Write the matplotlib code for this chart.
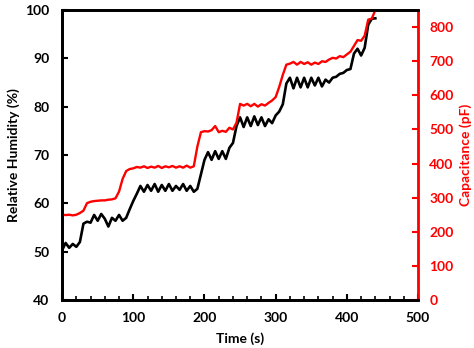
import numpy as np
import matplotlib.pyplot as plt

# sample times (s)
time = np.arange(0, 445, 5)

# relative humidity (%), left axis
humidity = [
    50.3, 51.8, 50.8, 51.6, 51.0, 52.0, 55.8, 56.2, 56.0, 57.6,
    56.4, 57.8, 56.8, 55.2, 57.0, 56.4, 57.6, 56.4, 57.0, 58.8,
    60.5, 62.0, 63.6, 62.4, 63.8, 62.6, 64.0, 62.4, 63.8, 62.6,
    64.0, 62.6, 63.6, 62.8, 64.0, 62.6, 63.6, 62.4, 63.0, 66.0,
    69.0, 70.6, 69.0, 70.8, 69.2, 70.8, 69.2, 71.5, 72.5, 76.0,
    77.8, 75.8, 77.8, 76.0, 78.0, 76.2, 77.8, 76.0, 77.4, 76.6,
    78.2, 79.0, 80.5, 84.8, 86.0, 83.8, 86.0, 84.0, 86.0, 84.0,
    86.0, 84.4, 86.0, 84.2, 85.6, 85.0, 86.0, 86.2, 86.8, 87.0,
    87.6, 87.8, 91.0, 92.0, 90.6, 92.2, 97.0, 98.2, 98.3,
]

# capacitance (pF), right axis
capacitance = [
    250, 249, 250, 248, 250, 255, 262, 284, 288, 290,
    291, 292, 292, 294, 295, 298, 318, 355, 378, 384,
    386, 390, 388, 392, 387, 391, 388, 393, 387, 392,
    389, 393, 388, 392, 388, 394, 388, 392, 450, 492,
    495, 494, 498, 510, 492, 496, 493, 505, 500, 520,
    575, 570, 575, 568, 575, 567, 574, 570, 578, 585,
    595, 625, 660, 690, 693, 698, 690, 698, 692, 697,
    690, 696, 692, 700, 698, 705, 710, 708, 715, 712,
    720, 728, 745, 762, 760, 775, 822, 825, 850,
]


def main() -> int:
    plt.rcParams["font.family"] = ["Lato", "DejaVu Sans"]
    plt.rcParams["font.weight"] = "bold"

    fig = plt.figure(figsize=(4.74, 3.48), dpi=100)
    ax = fig.add_axes([0.131, 0.138, 0.751, 0.833])
    ax2 = ax.twinx()

    ax.plot(time, humidity, color="black", linewidth=1.9)
    ax2.plot(time, capacitance, color="red", linewidth=1.7)

    ax.set_xlim(0, 500)
    ax.set_ylim(40, 100)
    ax2.set_ylim(0, 850)
    ax.set_xticks(range(0, 501, 100))
    ax.set_xticks(range(0, 501, 20), minor=True)
    ax.set_yticks(range(40, 101, 10))
    ax2.set_yticks(range(0, 801, 100))

    ax.set_xlabel("Time (s)", fontsize=10, fontweight="bold", labelpad=6)
    ax.set_ylabel("Relative Humidity (%)", fontsize=10, fontweight="bold")
    ax2.set_ylabel("Capacitance (pF)", fontsize=10, fontweight="bold",
                   color="red")

    ax.tick_params(axis="both", which="major", direction="in", length=4,
                   width=1.5, labelsize=10, pad=9)
    ax.tick_params(axis="x", which="minor", direction="in", length=3,
                   width=1.2)
    ax2.tick_params(axis="y", direction="in", length=4, width=1.5,
                    labelsize=10, pad=8, colors="red")

    for name in ["left", "bottom", "top"]:
        ax.spines[name].set_linewidth(2)
        ax2.spines[name].set_linewidth(2)
    ax2.spines["right"].set_color("red")
    ax2.spines["right"].set_linewidth(2)
    ax.spines["right"].set_visible(False)

    fig.savefig("out.png", dpi=100)
    return 0


if __name__ == "__main__":
    main()
